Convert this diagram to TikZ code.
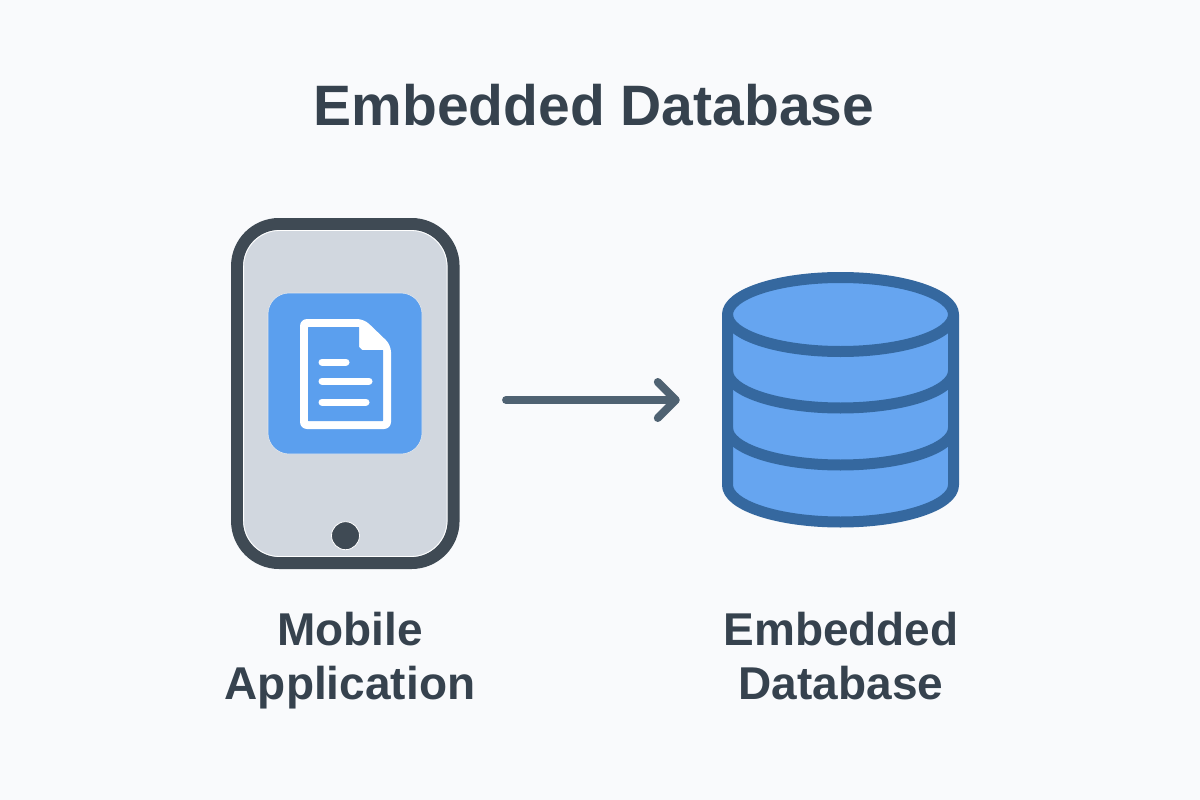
\documentclass[tikz,border=0pt]{standalone}
\usepackage{fontspec}
\setmainfont{Liberation Sans}
\usetikzlibrary{arrows.meta,calc}
\definecolor{bgc}{HTML}{F9FAFC}
\definecolor{inkc}{HTML}{36424E}
\definecolor{phonec}{HTML}{3F4A54}
\definecolor{screenc}{HTML}{D1D7DF}
\definecolor{tilec}{HTML}{5B9FEE}
\definecolor{dbfill}{HTML}{66A5F0}
\definecolor{dbline}{HTML}{35689F}
\definecolor{arrowc}{HTML}{4F6272}
\tikzset{
  x=1pt,y=-1pt,
  phonebody/.style={draw=phonec,line width=12pt,fill=screenc,rounded corners=42pt,inner sep=0pt,outer sep=0pt,minimum width=216.5pt,minimum height=339pt},
  tile/.style={fill=tilec,draw=screenc!60!white,line width=.6pt,rounded corners=21pt,inner sep=0pt,minimum width=154pt,minimum height=161pt},
  homebtn/.style={circle,fill=phonec,draw=white,line width=.8pt,inner sep=0pt,minimum size=28pt},
  docrow/.style={draw=white,line width=7pt,line cap=round},
  dbstroke/.style={draw=dbline,line width=11pt,line join=round,line cap=round},
  flow/.style={draw=arrowc,line width=8pt,line cap=round,-{Straight Barb[length=18pt,width=36pt,round,line width=8pt]}},
  titletext/.style={font=\fontsize{57}{64}\selectfont\bfseries,text=inkc,inner sep=0pt},
  labeltext/.style={font=\fontsize{46}{54}\selectfont\bfseries,text=inkc,inner sep=0pt,align=center,text width=300pt}
}
\begin{document}
\begin{tikzpicture}
\useasboundingbox[fill=bgc] (0,0) rectangle (1200,800);
\node[titletext,anchor=base] (title) at (594,125) {Embedded Database};
% phone
\node[phonebody] (phone) at (345.3,393.5) {};
\draw[white,line width=.8pt,rounded corners=36pt] (243.6,230.5) rectangle (447,556.5);
\node[tile] (tile) at (345,373.5) {};
\node[homebtn] (home) at (345.5,535.7) {};
% document
\fill[white,rounded corners=7pt] (300,319) -- (364,319) -- (391,345) -- (391,429) -- (300,429) -- cycle;
\fill[tilec,rounded corners=.5pt] (308,327) -- (359,327) -- (359,347) -- (362,350) -- (383,350) -- (383,421) -- (308,421) -- cycle;
\draw[docrow] (322,362) -- (346,362);
\draw[docrow] (322,381) -- (369,381);
\draw[docrow] (322,402) -- (366,402);
% database
\node[inner sep=0pt,minimum width=237pt,minimum height=256pt] (db) at (840.5,400) {};
\fill[dbfill] (727.5,314.5) -- (953.5,314.5) -- (953.5,485) arc[start angle=0,end angle=180,x radius=113,y radius=37] -- cycle;
\fill[dbfill] (840.5,314.5) ellipse[x radius=113,y radius=37];
\draw[dbstroke] (840.5,314.5) ellipse[x radius=113,y radius=37];
\draw[dbstroke] (727.5,314.5) -- (727.5,485) arc[start angle=180,end angle=0,x radius=113,y radius=37] -- (953.5,314.5);
\draw[dbstroke] (727.5,371) arc[start angle=180,end angle=0,x radius=113,y radius=37];
\draw[dbstroke] (727.5,428) arc[start angle=180,end angle=0,x radius=113,y radius=37];
% arrow
\draw[flow] ($(phone.east |- db.west)+(52.5,0)$) -- ($(db.west)+(-42,0)$);
% labels
\node[labeltext,anchor=base] (applabel) at (350,645) {Mobile\\[.02em]Application};
\node[labeltext,anchor=base] (dblabel) at (841,645) {Embedded\\[.02em]Database};
\end{tikzpicture}
\end{document}
